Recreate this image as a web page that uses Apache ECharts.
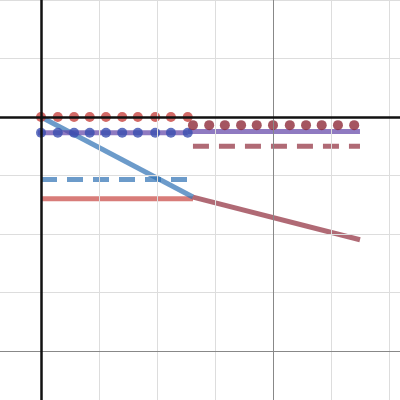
<!DOCTYPE html>
<html>
<head>
<meta charset="utf-8">
<script src="https://cdn.jsdelivr.net/npm/echarts@6/dist/echarts.min.js"></script>
<style>html,body{margin:0;padding:0;background:#fff}#chart{width:400px;height:400px}</style>
</head>
<body>
<div id="chart"></div>
<script>
// grid lines
const gridX = [1, 2, 3, 5, 6];
const gridY = [1, 2, -1, -2, -3];
const majorX = [4];
const majorY = [-4];

// series data
const redDotsX = [0, 0.29, 0.57, 0.84, 1.12, 1.40, 1.67, 1.97, 2.24, 2.53];
const redDotsY = 0;
const blueDotsY = -0.27;
const darkDotsX = [2.62, 2.90, 3.17, 3.45, 3.72, 4.0, 4.29, 4.57, 4.84, 5.12, 5.40];
const darkDotsY = -0.14;
const purpleLeft = [[-0.05, -0.27], [2.53, -0.27]];
const purpleLine = [[2.53, -0.25], [5.5, -0.25]];
const darkDashed = [[2.62, -0.5], [5.5, -0.5]];
const blueDashed = [[0, -1.07], [2.62, -1.07]];
const redSolid = [[0, -1.4], [2.62, -1.4]];
const blueSolid = [[0, 0], [2.62, -1.37]];
const darkSolid = [[2.62, -1.37], [5.5, -2.1]];

const RED = "#c74440", BLUE = "#2d70b3", PURPLE = "#6042a6", DARK = "#8e2b3a";

const myChart = echarts.init(document.getElementById("chart"));

function line(data, color, type, width) {
	return {
		type: "line", data: data, symbol: "none", silent: true, z: 3,
		lineStyle: { color: color, width: width || 5, type: type || "solid", opacity: 0.7, cap: "butt" }
	};
}
function dots(xs, y, color) {
	return {
		type: "scatter", data: xs.map(x => [x, y]), symbolSize: 10, z: 4,
		itemStyle: { color: color, opacity: 0.8 }
	};
}

const option = {
	animation: false,
	grid: { left: 0, right: 0, top: 0, bottom: 0 },
	xAxis: { type: "value", min: -0.707, max: 6.19, show: false },
	yAxis: { type: "value", min: -4.84, max: 2, show: false },
	series: [
		{
			type: "line", data: [], silent: true, z: 1,
			markLine: {
				symbol: "none", silent: true, label: { show: false },
				data: [
					...gridX.map(v => ({ xAxis: v, lineStyle: { color: "#ddd", width: 1, type: "solid" } })),
					...gridY.map(v => ({ yAxis: v, lineStyle: { color: "#ddd", width: 1, type: "solid" } })),
					...majorX.map(v => ({ xAxis: v, lineStyle: { color: "#888", width: 1, type: "solid" } })),
					...majorY.map(v => ({ yAxis: v, lineStyle: { color: "#888", width: 1, type: "solid" } })),
					{ xAxis: 0, lineStyle: { color: "#111", width: 2.5, type: "solid" } },
					{ yAxis: 0, lineStyle: { color: "#111", width: 2.5, type: "solid" } }
				]
			}
		},
		line(redSolid, RED),
		line(blueSolid, BLUE),
		line(darkSolid, DARK),
		line(purpleLeft, PURPLE),
		line(purpleLine, PURPLE),
		line(blueDashed, BLUE, [16, 10]),
		line(darkDashed, DARK, [16, 10]),
		dots(redDotsX, redDotsY, RED),
		dots(redDotsX, blueDotsY, "#3a4fb0"),
		dots(darkDotsX, darkDotsY, DARK)
	]
};
myChart.setOption(option);
</script>
</body>
</html>
